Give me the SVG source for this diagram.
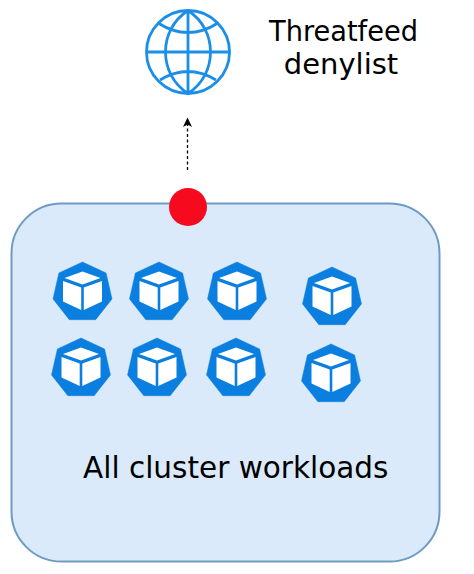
<svg xmlns="http://www.w3.org/2000/svg" width="474" height="574" viewBox="0 0 474 574">
<style>
.t{font-family:"DejaVu Sans",Verdana,sans-serif;fill:#000}
.g{fill:none;stroke:#1b8fe8;stroke-width:2.800}
</style>
<defs>
<g id="k">
<polygon points="0,-30 23.600,-19 29.500,6.900 13.200,27.700 -13.200,27.700 -29.500,6.900 -23.600,-19" fill="#0a7fe0" stroke="#0a7fe0" stroke-width="0.500" stroke-linejoin="round"/>
<polygon points="0,-20.500 18,-14 0,-7.500 -18,-14" fill="#fff"/>
<polygon points="-19.500,-11 -1.300,-4.500 -1.300,18 -19.500,9.500" fill="#fff"/>
<polygon points="19.500,-11 1.300,-4.500 1.300,18 19.500,9.500" fill="#fff"/>
</g>
</defs>
<g id="cluster"><rect x="11.500" y="203.500" width="428" height="358" rx="50" ry="50" fill="#dbeafa" stroke="#6c9bc4" stroke-width="2"/>
<text class="t" x="83" y="478" font-size="29.500">All cluster workloads</text></g>
<g id="globe">
<circle class="g" cx="188" cy="52" r="41.500"/>
<path class="g" d="M188,10.500C158,30 158,74 188,93.500C218,74 218,30 188,10.500M188,10.500V93.500M146.500,52H229.500M158,23Q188,42 218,23M160,80Q188,63 216,80"/>
</g>
<g id="threatfeed"><text class="t" x="269" y="41" font-size="29" textLength="149" lengthAdjust="spacingAndGlyphs">Threatfeed</text><text class="t" x="341" y="74" text-anchor="middle" font-size="29">denylist</text></g>
<g id="connectors"><path d="M187.500,170V120" fill="none" stroke="#000" stroke-width="1.300" stroke-dasharray="3 2.500"/><path d="M187.500,117.500L192,127L187.500,124.500L183,127Z" fill="#000"/></g>
<g id="port"><circle cx="188" cy="207" r="19" fill="#f50a1e"/></g>
<g id="w1"><use href="#k" x="82.500" y="292"/></g>
<g id="w2"><use href="#k" x="159" y="292"/></g>
<g id="w3"><use href="#k" x="237" y="292"/></g>
<g id="w4"><use href="#k" x="332" y="297"/></g>
<g id="w5"><use href="#k" x="81" y="368"/></g>
<g id="w6"><use href="#k" x="157" y="368"/></g>
<g id="w7"><use href="#k" x="236" y="368"/></g>
<g id="w8"><use href="#k" x="331" y="374"/></g>
</svg>
